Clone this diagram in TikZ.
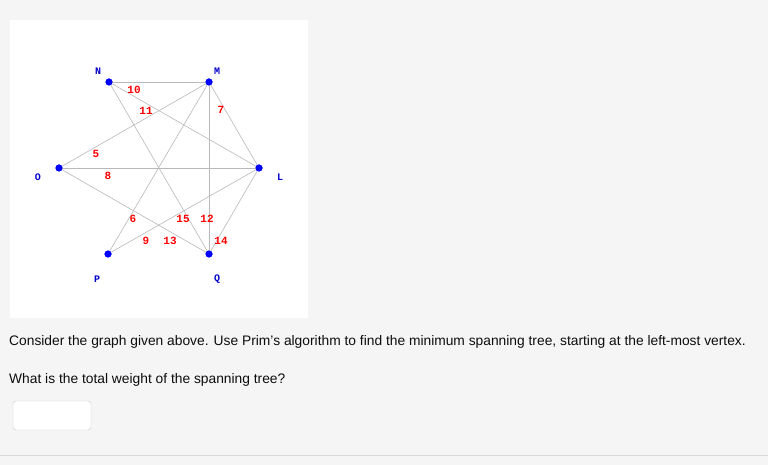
\documentclass[tikz,border=0pt]{standalone}
\usepackage{fontspec}
\setmainfont{Liberation Sans}
\newfontfamily\monof{Liberation Mono}
\begin{document}
\begin{tikzpicture}[x=1pt,y=-1pt,
  vtx/.style={circle,fill=blue,inner sep=0pt,minimum size=7pt},
  vlab/.style={font=\monof\bfseries\fontsize{10}{10}\selectfont,text=blue!80!black},
  wlab/.style={font=\monof\bfseries\fontsize{11}{11}\selectfont,text=red,inner sep=0pt},
  qtext/.style={anchor=west,inner sep=0pt,font=\fontsize{13.8}{15}\selectfont,text=gray!10!black},
  edge/.style={draw=gray!55,line width=0.6pt}]
\useasboundingbox (0,0) rectangle (768,465);
\fill[gray!8] (0,0) rectangle (768,465);
\fill[white] (10,20) rectangle (308,318);
\node[vtx] (N) at (109,82) {};
\node[vtx] (M) at (209,82) {};
\node[vtx] (O) at (59,168) {};
\node[vtx] (L) at (259,168) {};
\node[vtx] (P) at (108,254) {};
\node[vtx] (Q) at (209,254) {};
\node[vlab] (tN) at (98,71) {N};
\node[vlab] (tM) at (217,71) {M};
\node[vlab] (tO) at (38,177) {O};
\node[vlab] (tL) at (280,177) {L};
\node[vlab] (tP) at (97,279) {P};
\node[vlab] (tQ) at (217,279) {Q};
\draw[edge] (N.center)--(M.center);
\draw[edge] (N.center)--(L.center);
\draw[edge] (N.center)--(Q.center);
\draw[edge] (O.center)--(M.center);
\draw[edge] (O.center)--(L.center);
\draw[edge] (O.center)--(Q.center);
\draw[edge] (M.center)--(L.center);
\draw[edge] (M.center)--(Q.center);
\draw[edge] (M.center)--(P.center);
\draw[edge] (P.center)--(L.center);
\draw[edge] (L.center)--(Q.center);
\foreach \v in {N,M,O,L,P,Q} \fill[blue] (\v) circle (3.5pt);
\node[wlab] (w10) at (134,90) {10};
\node[wlab] (w11) at (146,111) {11};
\node[wlab] (w7) at (221,110) {7};
\node[wlab] (w5) at (96,154) {5};
\node[wlab] (w8) at (108,176) {8};
\node[wlab] (w6) at (133,219) {6};
\node[wlab] (w15) at (183,219) {15};
\node[wlab] (w12) at (207,219) {12};
\node[wlab] (w9) at (146,241) {9};
\node[wlab] (w13) at (170,241) {13};
\node[wlab] (w14) at (221,241) {14};
\node[qtext] (q1) at (9,342) {Consider the graph given above. Use Prim's algorithm to find the minimum spanning tree, starting at the left-most vertex.};
\node[qtext] (q2) at (9,380) {What is the total weight of the spanning tree?};
\draw[gray!40,fill=white,rounded corners=3pt] (13,401) rectangle (91,430);
\draw[gray!30] (0,455)--(768,455);
\end{tikzpicture}
\end{document}
